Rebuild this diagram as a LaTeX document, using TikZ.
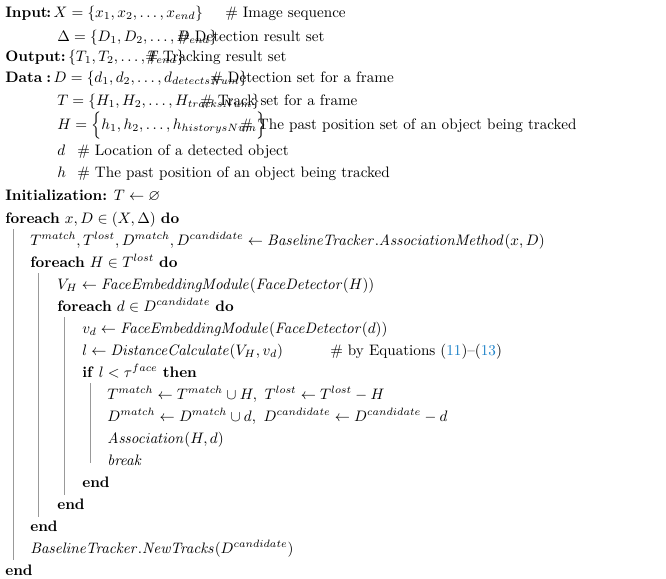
\documentclass[tikz,border=0pt]{standalone}
\usepackage{amsmath,amssymb}
\begin{document}
\begin{tikzpicture}[x=0.66pt,y=-0.66pt,
  t/.style={anchor=base west,inner sep=0pt,font=\normalsize},
  bar/.style={draw=gray!80,line width=0.55pt}]
\useasboundingbox (0,0) rectangle (666,578);
\definecolor{lnk}{RGB}{30,130,200}
% header
\node[t] (in) at (5,17) {\textbf{Input}};
\node[t] (in1) at (46,17) {\textbf{:}\,$X=\{x_1,x_2,\ldots,x_{end}\}$};
\node[t] (c1) at (225,17) {\# Image sequence};
\node[t] (in2) at (57,41) {$\Delta=\{D_1,D_2,\ldots,D_{end}\}$};
\node[t] (c2) at (177,41) {\# Detection result set};
\node[t] (out) at (5,61) {\textbf{Output:}\,$\{T_1,T_2,\ldots,T_{end}\}$};
\node[t] (c3) at (145,61) {\# Tracking result set};
\node[t] (da) at (5,82) {\textbf{Data}};
\node[t] (da1) at (46,82) {\textbf{:}\,$D=\{d_1,d_2,\ldots,d_{detectsNum}\}$};
\node[t] (c4) at (210,82) {\# Detection set for a frame};
\node[t] (da2) at (57,105) {$T=\{H_1,H_2,\ldots,H_{tracksNum}\}$};
\node[t] (c5) at (200,105) {\# Track set for a frame};
\node[t] (da3) at (57,129) {$H=\Bigl\{h_1,h_2,\ldots,h_{historysNum}\Bigr\}$};
\node[t] (c6) at (240,129) {\# The past position set of an object being tracked};
\node[t] (da4) at (57,155) {$d$};
\node[t] (c7) at (77,155) {\# Location of a detected object};
\node[t] (da5) at (57,177) {$h$};
\node[t] (c8) at (77,177) {\# The past position of an object being tracked};
\node[t] (ini) at (5,200) {\textbf{Initialization:} $T\leftarrow\varnothing$};
% body
\node[t] (l1) at (5,223) {\textbf{foreach} $x,D\in(X,\Delta)$ \textbf{do}};
\node[t] (l2) at (30,245) {$T^{match},T^{lost},D^{match},D^{candidate}\leftarrow \mathit{BaselineTracker.AssociationMethod}(x,D)$};
\node[t] (l3) at (30,267) {\textbf{foreach} $H\in T^{lost}$ \textbf{do}};
\node[t] (l4) at (57,289) {$V_H\leftarrow \mathit{FaceEmbeddingModule}(\mathit{FaceDetector}(H))$};
\node[t] (l5) at (57,311) {\textbf{foreach} $d\in D^{candidate}$ \textbf{do}};
\node[t] (l6) at (82,333) {$v_d\leftarrow \mathit{FaceEmbeddingModule}(\mathit{FaceDetector}(d))$};
\node[t] (l7) at (82,355) {$l\leftarrow \mathit{DistanceCalculate}(V_H,v_d)$};
\node[t] (c9) at (330,355) {\# by Equations (\textcolor{lnk}{11})--(\textcolor{lnk}{13})};
\node[t] (l8) at (82,377) {\textbf{if} $l<\tau^{face}$ \textbf{then}};
\node[t] (l9) at (107,399) {$T^{match}\leftarrow T^{match}\cup H,\ T^{lost}\leftarrow T^{lost}-H$};
\node[t] (l10) at (107,421) {$D^{match}\leftarrow D^{match}\cup d,\ D^{candidate}\leftarrow D^{candidate}-d$};
\node[t] (l11) at (107,443) {$\mathit{Association}(H,d)$};
\node[t] (l12) at (107,465) {\textit{break}};
\node[t] (e4) at (82,487) {\textbf{end}};
\node[t] (e3) at (57,509) {\textbf{end}};
\node[t] (e2) at (30,531) {\textbf{end}};
\node[t] (l13) at (30,553) {$\mathit{BaselineTracker.NewTracks}(D^{candidate})$};
\node[t] (e1) at (5,575) {\textbf{end}};
% bars
\draw[bar] (13,229) -- (13,560);
\draw[bar] (38,273) -- (38,517);
\draw[bar] (64,317) -- (64,495);
\draw[bar] (90,383) -- (90,463);
\end{tikzpicture}
\end{document}
